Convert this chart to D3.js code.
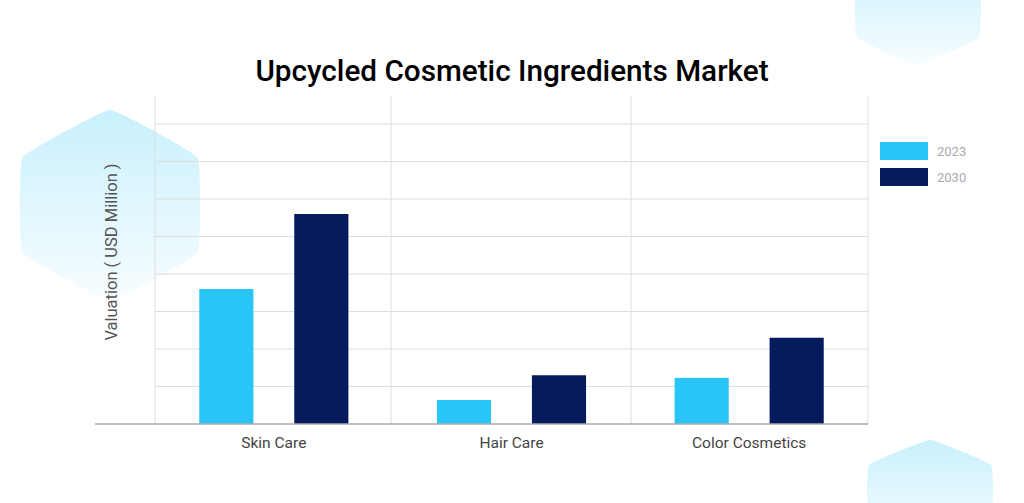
<!DOCTYPE html><html><head><meta charset="utf-8"><script src="https://cdn.jsdelivr.net/npm/d3@7"></script>
<style>body{margin:0;background:#fff}svg{display:block}</style></head><body><svg id="c" width="1024" height="503"></svg>
<script>
const categories=["Skin Care","Hair Care","Color Cosmetics"];
const series=["2023","2030"];
const values2023=[3.6,0.64,1.23];
const values2030=[5.6,1.3,2.3];
const colors=["#29c5f6","#061a5e"];
const svg=d3.select("#c");
const defs=svg.append("defs");
const g=defs.append("linearGradient").attr("id","hg").attr("x1",0).attr("y1",0).attr("x2",0).attr("y2",1);
g.append("stop").attr("offset","0").attr("stop-color","#c9f0fd");
g.append("stop").attr("offset","1").attr("stop-color","#c9f0fd").attr("stop-opacity",0.15);
function hex(cx,cy,w,h){const pts=[[cx,cy-h/2],[cx+w/2,cy-h/4],[cx+w/2,cy+h/4],[cx,cy+h/2],[cx-w/2,cy+h/4],[cx-w/2,cy-h/4]];
 svg.append("path").attr("d",d3.line().curve(d3.curveCardinalClosed.tension(0.75))(pts)).attr("fill","url(#hg)");}
hex(110,205,175,190);hex(918,10,122,110);hex(930,490,122,100);
const x0=d3.scaleBand().domain(categories).range([155,868]);
const x1=d3.scaleBand().domain(series).range([0,x0.bandwidth()]).paddingInner(0.43).paddingOuter(0.466);
const y=d3.scaleLinear().domain([0,8]).range([424,124]);
const grid=svg.append("g");
y.ticks(8).slice(1).forEach(t=>grid.append("line").attr("x1",155).attr("x2",868).attr("y1",y(t)).attr("y2",y(t)).attr("stroke","#ddd"));
[155,391,631,868].forEach(v=>grid.append("line").attr("x1",v).attr("x2",v).attr("y1",96).attr("y2",424).attr("stroke","#ddd"));
const data=categories.map((c,i)=>({c,v:[values2023[i],values2030[i]]}));
data.forEach(d=>d.v.forEach((v,j)=>svg.append("rect").attr("x",x0(d.c)+x1(series[j])).attr("width",x1.bandwidth()).attr("y",y(v)).attr("height",y(0)-y(v)).attr("fill",colors[j])));
svg.append("line").attr("x1",95).attr("x2",868).attr("y1",424).attr("y2",424).attr("stroke","#aaa").attr("stroke-width",1.5);
const ax=svg.append("g").attr("transform","translate(0,424)").call(d3.axisBottom(x0).tickSize(0).tickPadding(13));
ax.select(".domain").remove();
ax.selectAll("text").attr("font-family","Roboto").attr("font-size",15.5).attr("fill","#444");
svg.append("text").attr("x",512).attr("y",81).attr("text-anchor","middle").attr("font-family","Roboto").attr("font-weight",500).attr("font-size",29.7).attr("fill","#000").text("Upcycled Cosmetic Ingredients Market");
svg.append("text").attr("transform","translate(117,252) rotate(-90)").attr("text-anchor","middle").attr("font-family","Roboto").attr("font-size",16.5).attr("fill","#555").text("Valuation ( USD Million )");
series.forEach((s,i)=>{svg.append("rect").attr("x",880).attr("y",142+i*26).attr("width",48).attr("height",18).attr("fill",colors[i]);
 svg.append("text").attr("x",937).attr("y",156+i*26).attr("font-family","Roboto").attr("font-size",13).attr("fill","#aaa").text(s);});
</script></body></html>
